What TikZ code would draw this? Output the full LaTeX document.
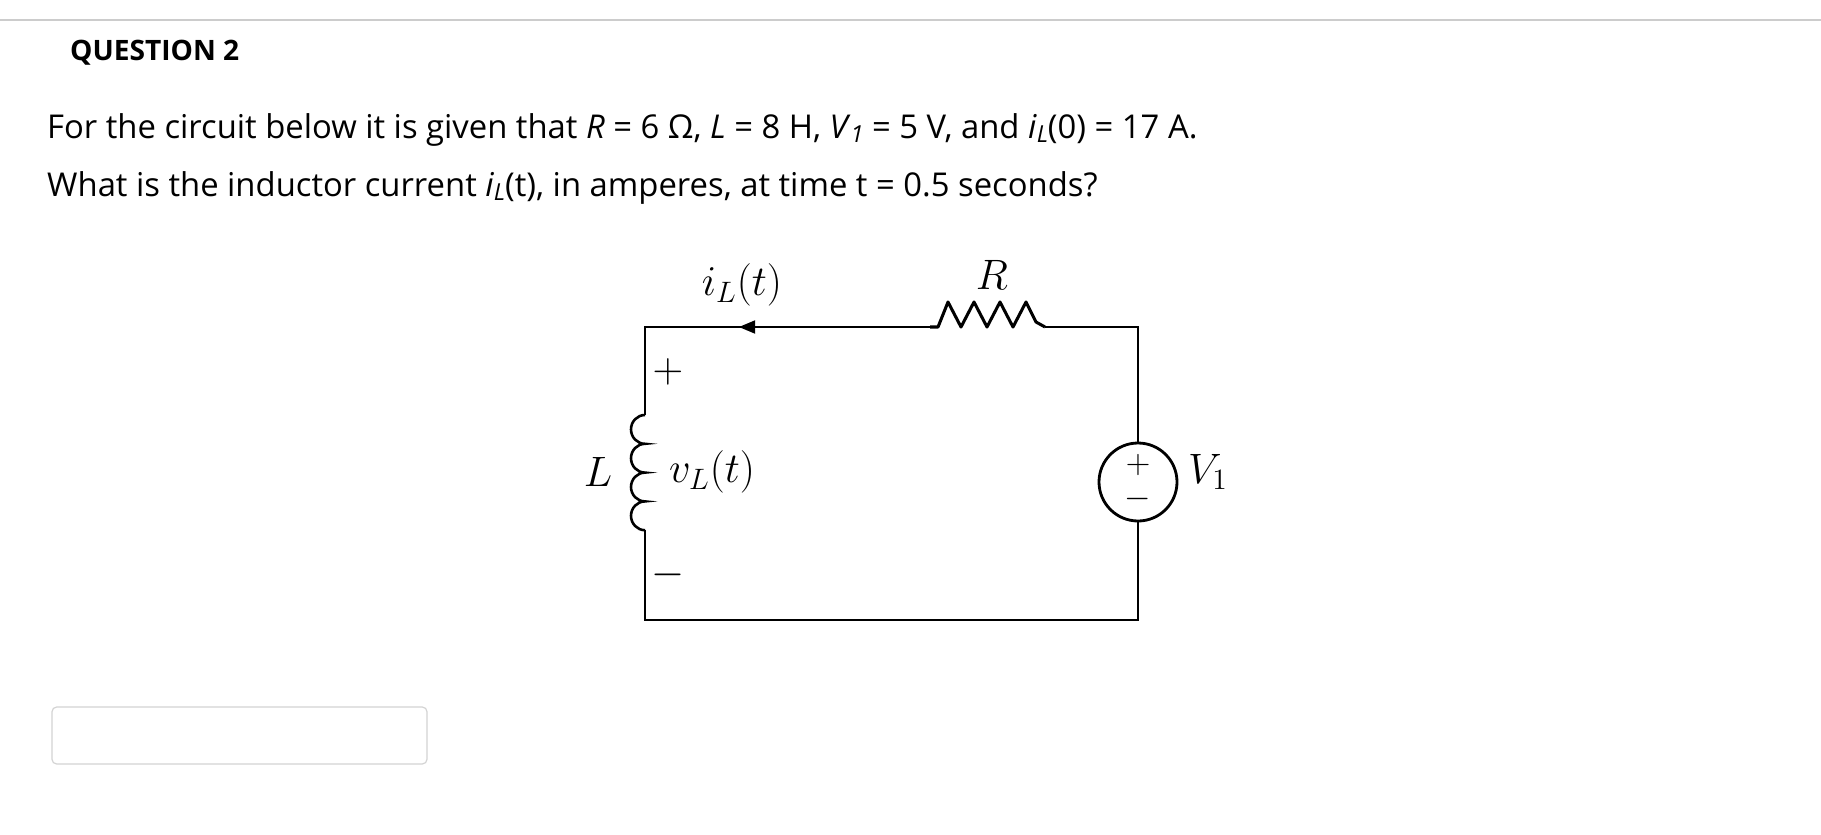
\documentclass[tikz,border=0pt]{standalone}
\usepackage{fontspec}
\setmainfont{Open Sans}
\usetikzlibrary{arrows.meta}
\begin{document}
\begin{tikzpicture}[x=0.03cm,y=-0.03cm,
  wire/.style={line width=2.2pt,black},
  body/.style={font=\fontsize{28}{32}\selectfont,anchor=west,inner sep=0},
  lbl/.style={font=\fontsize{20}{24}\selectfont,inner sep=0,scale=1.75}]
\useasboundingbox (0,0) rectangle (1821,834);
\draw[line width=1.2pt,gray!40] (0,20) -- (1821,20);
\node[body,font=\bfseries\fontsize{24}{28}\selectfont] (q) at (70,53) {QUESTION 2};
\node[body] (l1) at (47,130) {For the circuit below it is given that \textit{R} = 6 Ω, \textit{L} = 8 H, \textit{V}\raisebox{-0.25ex}{\textit{\fontsize{20}{22}\selectfont 1}} = 5 V, and \textit{i}\raisebox{-0.25ex}{\textit{\fontsize{20}{22}\selectfont L}}(0) = 17 A.};
\node[body] (l2) at (47,188) {What is the inductor current \textit{i}\raisebox{-0.25ex}{\textit{\fontsize{20}{22}\selectfont L}}(t), in amperes, at time t = 0.5 seconds?};
% circuit
\coordinate (tl) at (645,327); \coordinate (bl) at (645,620);
\coordinate (tr) at (1138,327); \coordinate (br) at (1138,620);
\coordinate (ra) at (930,327); \coordinate (rb) at (1045,327);
\coordinate (ia) at (645,415); \coordinate (ib) at (645,530);
\node[circle,draw,line width=2.4pt,minimum size=78*0.03cm,inner sep=0] (src) at (1138,482) {};
\draw[wire] (ra) -- (tl) -- (ia);
\draw[wire] (ib) -- (bl) -- (br) -- (src.south);
\draw[wire] (src.north) -- (tr) -- (rb);
\draw[wire,line width=2.6pt,line join=round] (ra) -- (938,327) -- (948,302) -- (961,327) -- (974,302) -- (987,327) -- (1000,302) -- (1013,327) -- (1026,302) -- (1036,322) -- (rb);
\draw[wire] (ia) arc[start angle=270,end angle=90,x radius=14,y radius=14.4] arc[start angle=270,end angle=90,x radius=14,y radius=14.4] arc[start angle=270,end angle=90,x radius=14,y radius=14.4] arc[start angle=270,end angle=90,x radius=14,y radius=14.4];
\node[inner sep=0] (ar) at (738,327) {};
\draw[wire,-{Triangle[length=14pt,width=11pt]}] (760,327) -- (ar);
\node[lbl] (il) at (742,285) {$i_L(t)$};
\node[lbl] (R) at (992,275) {$R$};
\node[lbl] (pl) at (668,372) {$+$};
\node[lbl] (vl) at (712,472) {$v_L(t)$};
\node[lbl] (mi) at (668,575) {$-$};
\node[lbl] (L) at (598,472) {$L$};
\node[lbl] (V) at (1208,472) {$V_1$};
\node[font=\fontsize{20}{24}\selectfont,inner sep=0,scale=1.4] (sp) at (1138,465) {$+$};
\node[font=\fontsize{20}{24}\selectfont,inner sep=0,scale=1.4] (sm) at (1138,499) {$-$};
\draw[line width=1pt,gray!35,rounded corners=4pt] (52,707) rectangle (427,764);
\end{tikzpicture}
\end{document}
